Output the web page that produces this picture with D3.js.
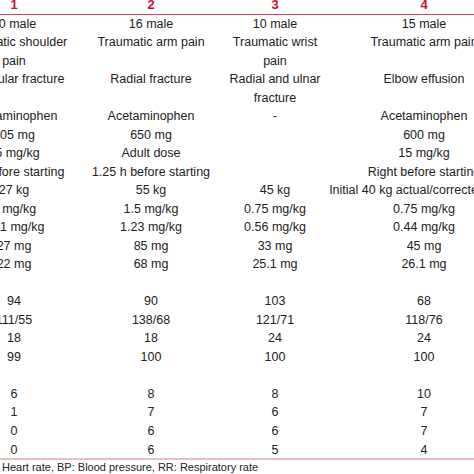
<!DOCTYPE html>
<html><head><meta charset="utf-8">
<script src="https://cdn.jsdelivr.net/npm/d3@7"></script>
<style>body{margin:0;background:#fff}svg{display:block}</style>
</head><body>
<svg id="c" width="474" height="474"></svg>
<script>
const headers = ["1","2","3","4"];
const col1 = ["10 male","Traumatic shoulder","pain","Clavicular fracture","","Acetaminophen","405 mg","15 mg/kg","1 h before starting","27 kg","1 mg/kg","1.11 mg/kg","27 mg","22 mg","","94","111/55","18","99","","6","1","0","0"];
const col2 = ["16 male","Traumatic arm pain","","Radial fracture","","Acetaminophen","650 mg","Adult dose","1.25 h before starting","55 kg","1.5 mg/kg","1.23 mg/kg","85 mg","68 mg","","90","138/68","18","100","","8","7","6","6"];
const col3 = ["10 male","Traumatic wrist","pain","Radial and ulnar","fracture","-","","","","45 kg","0.75 mg/kg","0.56 mg/kg","33 mg","25.1 mg","","103","121/71","24","100","","8","6","6","5"];
const col4 = ["15 male","Traumatic arm pain","","Elbow effusion","","Acetaminophen","600 mg","15 mg/kg","Right before starting","Initial 40 kg actual/corrected 30 kg","0.75 mg/kg","0.44 mg/kg","45 mg","26.1 mg","","68","118/76","24","100","","10","7","7","4"];
const footnote = "HR: Heart rate, BP: Blood pressure, RR: Respiratory rate";
const cols = [col1,col2,col3,col4];

const svg = d3.select("#c");
const x = d3.scaleOrdinal().domain(headers).range([14,151,275,424]);
const y = d3.scaleLinear().domain([0,23]).range([23,449]);
const font = "Liberation Sans, Arial, sans-serif";

svg.selectAll("text.h").data(headers).join("text")
  .attr("x",d=>x(d)).attr("y",9).attr("text-anchor","middle")
  .attr("font-family",font).attr("font-weight","bold").attr("font-size",13)
  .attr("fill","#c8102e").text(d=>d);
svg.append("line").attr("x1",0).attr("x2",474).attr("y1",14.5).attr("y2",14.5)
  .attr("stroke","#d04a5a").attr("stroke-width",1.2);

cols.forEach((c,i)=>{
  svg.append("g").selectAll("text").data(c).join("text")
    .attr("x",x(headers[i])).attr("y",(d,j)=>y(j)+4.5).attr("text-anchor","middle")
    .attr("font-family",font).attr("font-size",12.5).attr("fill","#222").text(d=>d);
});
svg.append("line").attr("x1",0).attr("x2",474).attr("y1",459).attr("y2",459)
  .attr("stroke","#c9808f").attr("stroke-width",1.2);
svg.append("text").attr("x",-20).attr("y",471).attr("font-family",font)
  .attr("font-size",11).attr("fill","#222").text(footnote);
</script>
</body></html>
